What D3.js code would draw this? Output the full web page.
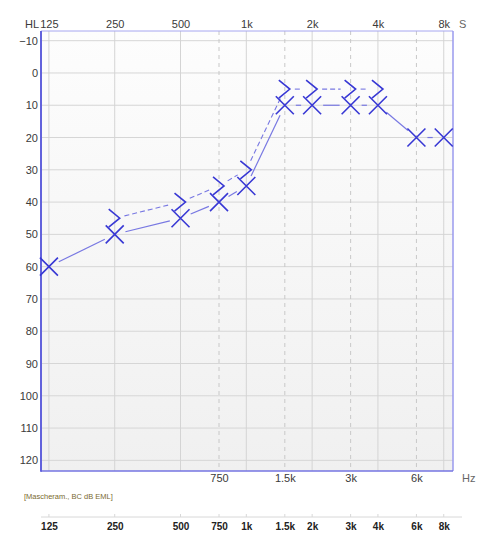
<!DOCTYPE html>
<html>
<head>
<meta charset="utf-8">
<script src="https://cdn.jsdelivr.net/npm/d3@7"></script>
<style>
  body { margin: 0; background: #fff; }
  svg text { font-family: "Liberation Sans", Arial, sans-serif; }
</style>
</head>
<body>
<div id="chart"></div>
<script>
// audiogram values
const airFreqs = [125, 250, 500, 750, 1000, 1500, 2000, 3000, 4000, 6000, 8000];
const airDb = [60, 50, 45, 40, 35, 10, 10, 10, 10, 20, 20];
const boneFreqs = [250, 500, 750, 1000, 1500, 2000, 3000, 4000];
const boneDb = [45, 40, 35, 30, 5, 5, 5, 5];

const octaveTicks = [125, 250, 500, 1000, 2000, 4000, 8000];
const octaveLabels = ["125", "250", "500", "1k", "2k", "4k", "8k"];
const halfTicks = [750, 1500, 3000, 6000];
const halfLabels = ["750", "1.5k", "3k", "6k"];
const stripTicks = [125, 250, 500, 750, 1000, 1500, 2000, 3000, 4000, 6000, 8000];
const stripLabels = ["125", "250", "500", "750", "1k", "1.5k", "2k", "3k", "4k", "6k", "8k"];
const dbTicks = [-10, 0, 10, 20, 30, 40, 50, 60, 70, 80, 90, 100, 110, 120];

const width = 485, height = 550;
const pLeft = 41, pRight = 453, pTop = 31, pBottom = 471;

const svg = d3.select("#chart").append("svg")
    .attr("width", width)
    .attr("height", height);

const x = d3.scaleLog().base(2).domain([115, 8820]).range([pLeft, pRight]);
const y = d3.scaleLinear().domain([-13, 123.3]).range([pTop, pBottom]);

// plot background
const grad = svg.append("defs").append("linearGradient")
    .attr("id", "bg").attr("x1", 0).attr("y1", 0).attr("x2", 0).attr("y2", 1);
grad.append("stop").attr("offset", "0%").attr("stop-color", "#fdfdfd");
grad.append("stop").attr("offset", "100%").attr("stop-color", "#f0f0f0");

svg.append("rect")
    .attr("x", pLeft).attr("y", pTop)
    .attr("width", pRight - pLeft).attr("height", pBottom - pTop)
    .attr("fill", "url(#bg)");

// grid
svg.append("g").selectAll("line")
    .data(dbTicks).enter().append("line")
    .attr("x1", pLeft).attr("x2", pRight)
    .attr("y1", d => y(d)).attr("y2", d => y(d))
    .attr("stroke", "#d6d6d6");

svg.append("g").selectAll("line")
    .data(octaveTicks).enter().append("line")
    .attr("x1", d => x(d)).attr("x2", d => x(d))
    .attr("y1", pTop).attr("y2", pBottom)
    .attr("stroke", "#d4d4d4");

svg.append("g").selectAll("line")
    .data(halfTicks).enter().append("line")
    .attr("x1", d => x(d)).attr("x2", d => x(d))
    .attr("y1", pTop).attr("y2", pBottom)
    .attr("stroke", "#c8c8c8")
    .attr("stroke-dasharray", "4,4");

// border
svg.append("line").attr("x1", pLeft).attr("x2", pRight).attr("y1", pTop).attr("y2", pTop)
    .attr("stroke", "#a6a6f0").attr("stroke-width", 1);
svg.append("line").attr("x1", pRight).attr("x2", pRight).attr("y1", pTop).attr("y2", pBottom)
    .attr("stroke", "#9a9aee").attr("stroke-width", 1.5);
svg.append("line").attr("x1", pLeft).attr("x2", pRight).attr("y1", pBottom).attr("y2", pBottom)
    .attr("stroke", "#7474e2").attr("stroke-width", 1.5);
svg.append("line").attr("x1", pLeft).attr("x2", pLeft).attr("y1", pTop).attr("y2", pBottom + 0.75)
    .attr("stroke", "#6262dc").attr("stroke-width", 2);

// axes
function styleAxis(g, size) {
    g.select(".domain").remove();
    g.selectAll(".tick line").remove();
    g.selectAll("text")
        .attr("font-size", size)
        .attr("fill", "#3a3a3a")
        .style("font-family", "'Liberation Sans', Arial, sans-serif");
}

svg.append("g")
    .attr("transform", `translate(${pLeft},0)`)
    .call(d3.axisLeft(y).tickValues(dbTicks).tickSize(0).tickPadding(3))
    .call(g => styleAxis(g, 11));

svg.append("g")
    .attr("transform", `translate(0,${pTop})`)
    .call(d3.axisTop(x).tickValues(octaveTicks).tickSize(0).tickPadding(3)
        .tickFormat((d, i) => octaveLabels[i]))
    .call(g => styleAxis(g, 11));

svg.append("g")
    .attr("transform", `translate(0,${pBottom})`)
    .call(d3.axisBottom(x).tickValues(halfTicks).tickSize(0).tickPadding(3)
        .tickFormat((d, i) => halfLabels[i]))
    .call(g => styleAxis(g, 11));

svg.append("text").attr("x", 25).attr("y", 28).attr("font-size", 11).attr("fill", "#3a3a3a").text("HL");
svg.append("text").attr("x", 459).attr("y", 28).attr("font-size", 11).attr("fill", "#666").text("S");
svg.append("text").attr("x", 462).attr("y", 482).attr("font-size", 11).attr("fill", "#666").text("Hz");

svg.append("text")
    .attr("x", 24).attr("y", 499)
    .attr("font-size", 7.5)
    .attr("fill", "#7a6a30")
    .text("[Mascheram., BC dB EML]");

// bottom frequency strip
const strip = svg.append("g")
    .attr("transform", "translate(0,517)")
    .call(d3.axisBottom(x).tickValues(stripTicks).tickSize(0).tickPadding(6)
        .tickFormat((d, i) => stripLabels[i]));
strip.select(".domain").remove();
strip.selectAll(".tick line").remove();
strip.selectAll("text")
    .attr("font-size", 10)
    .attr("font-weight", "bold")
    .attr("fill", "#222")
    .style("font-family", "'Liberation Sans', Arial, sans-serif");
strip.append("line").attr("x1", pLeft).attr("x2", 462).attr("y1", 0).attr("y2", 0)
    .attr("stroke", "#d8d8d8");
strip.selectAll("line.tk").data(stripTicks).enter().append("line")
    .attr("class", "tk")
    .attr("x1", d => x(d)).attr("x2", d => x(d))
    .attr("y1", 0).attr("y2", -3)
    .attr("stroke", "#d8d8d8");

// connecting lines with a gap near each marker
function segments(fs, vs, gap) {
    const out = [];
    for (let i = 0; i < fs.length - 1; i++) {
        const x1 = x(fs[i]), y1 = y(vs[i]), x2 = x(fs[i + 1]), y2 = y(vs[i + 1]);
        const len = Math.hypot(x2 - x1, y2 - y1);
        const ux = (x2 - x1) / len, uy = (y2 - y1) / len;
        out.push([x1 + ux * gap, y1 + uy * gap, x2 - ux * gap, y2 - uy * gap]);
    }
    return out;
}

const markColor = "#3838d4";
const lineColor = "#7878e2";

svg.append("g").selectAll("line")
    .data(segments(boneFreqs, boneDb, 10)).enter().append("line")
    .attr("x1", d => d[0]).attr("y1", d => d[1])
    .attr("x2", d => d[2]).attr("y2", d => d[3])
    .attr("stroke", lineColor).attr("stroke-width", 1.1)
    .attr("stroke-dasharray", "5,3");

svg.append("g").selectAll("line")
    .data(segments(airFreqs, airDb, 11)).enter().append("line")
    .attr("x1", d => d[0]).attr("y1", d => d[1])
    .attr("x2", d => d[2]).attr("y2", d => d[3])
    .attr("stroke", lineColor).attr("stroke-width", 1.2);

// bone conduction markers ">"
svg.append("g").selectAll("path")
    .data(boneFreqs).enter().append("path")
    .attr("d", (d, i) => {
        const cx = x(d), cy = y(boneDb[i]);
        return `M${cx - 6},${cy - 9}L${cx + 5},${cy}L${cx - 6},${cy + 9}`;
    })
    .attr("fill", "none").attr("stroke", markColor).attr("stroke-width", 1.6);

// air conduction markers "X"
svg.append("g").selectAll("path")
    .data(airFreqs).enter().append("path")
    .attr("d", (d, i) => {
        const cx = x(d), cy = y(airDb[i]), r = 9;
        return `M${cx - r},${cy - r}L${cx + r},${cy + r}M${cx + r},${cy - r}L${cx - r},${cy + r}`;
    })
    .attr("fill", "none").attr("stroke", markColor).attr("stroke-width", 1.6);
</script>
</body>
</html>
